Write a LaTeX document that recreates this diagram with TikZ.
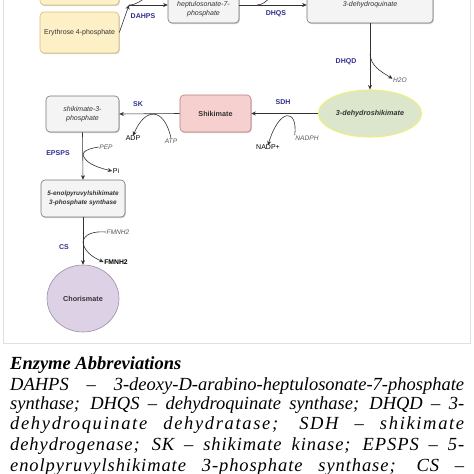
\documentclass[tikz,border=0pt]{standalone}
\usepackage{fontspec}
\setmainfont{Liberation Serif}
\setsansfont{Liberation Sans}
\usetikzlibrary{shapes.geometric,arrows.meta,shadows}
\definecolor{ylwfill}{HTML}{FDEFC6}
\definecolor{ylwline}{HTML}{D8BE78}
\definecolor{gryfill}{HTML}{F4F4F4}
\definecolor{gryline}{HTML}{777777}
\definecolor{pnkfill}{HTML}{F6CFCF}
\definecolor{pnkline}{HTML}{C07A78}
\definecolor{grnfill}{HTML}{DCE6CC}
\definecolor{grnline}{HTML}{EEEE80}
\definecolor{purfill}{HTML}{DDD1E6}
\definecolor{purline}{HTML}{9A8FA8}
\definecolor{enzblue}{HTML}{2E2E8E}
\definecolor{boxtext}{HTML}{333333}
\tikzset{
  shad/.style={drop shadow={shadow xshift=0.8pt,shadow yshift=-1.2pt,opacity=0.35}},
  ybox/.style={draw=ylwline,fill=ylwfill,rounded corners=4pt,line width=0.6pt,shad},
  gbox/.style={draw=gryline,fill=gryfill,rounded corners=4pt,line width=0.6pt,shad},
  pbox/.style={draw=pnkline,fill=pnkfill,rounded corners=4pt,line width=0.6pt,shad},
  boxtxt/.style={text=boxtext,font=\sffamily\itshape\fontsize{7}{9}\selectfont,align=center,inner sep=0pt},
  enz/.style={text=enzblue,font=\sffamily\bfseries\fontsize{7}{8}\selectfont,inner sep=0pt},
  cofin/.style={text=black!65,font=\sffamily\itshape\fontsize{6.6}{8}\selectfont,inner sep=0.5pt},
  cofout/.style={text=black,font=\sffamily\fontsize{7}{8}\selectfont,inner sep=0.5pt},
  conn/.style={draw=black!80,line width=0.6pt},
  arr/.style={conn,-{Stealth[length=4.5pt,width=4pt]}},
  abline/.style={anchor=base west,inner sep=0pt,font=\rmfamily\itshape\fontsize{18.5}{19}\selectfont},
}
\begin{document}
\begin{tikzpicture}[x=1pt,y=-1pt]
\useasboundingbox (0,0) rectangle (474,474);
\clip (0,0) rectangle (474,474);
\fill[white] (0,0) rectangle (474,474);
\draw[black!12,line width=0.8pt] (3,-5) rectangle (470,343);

% boxes
\node[ybox,minimum width=79pt,minimum height=45pt] (pep) at (79.5,-17.5) {};
\node[ybox,minimum width=79pt,minimum height=41pt,text=boxtext,font=\sffamily\fontsize{7}{8}\selectfont] (ery) at (79.5,32.5) {Erythrose 4-phosphate};
\node[gbox,minimum width=71pt,minimum height=48pt] (hep) at (203.5,-1) {};
\node[boxtxt] (heptxt) at (203.5,9.5) {heptulosonate-7-\\phosphate};
\node[gbox,minimum width=126pt,minimum height=48pt] (dq) at (370,-1) {};
\node[boxtxt] (dqtxt) at (370,5) {3-dehydroquinate};
\node[ellipse,draw=grnline,fill=grnfill,line width=1.1pt,minimum width=103pt,minimum height=47pt,inner sep=0pt,
      text=boxtext,font=\sffamily\bfseries\itshape\fontsize{7.2}{8}\selectfont] (dhs) at (370,113.5) {3-dehydroshikimate};
\node[pbox,minimum width=71pt,minimum height=37pt,text=boxtext,font=\sffamily\bfseries\fontsize{7.2}{8}\selectfont] (shik) at (215.5,113.5) {Shikimate};
\node[gbox,minimum width=73pt,minimum height=36pt] (s3p) at (82.5,114) {};
\node[boxtxt] (s3ptxt) at (82.5,114) {shikimate-3-\\phosphate};
\node[gbox,minimum width=84pt,minimum height=37pt] (eps) at (83,198.5) {};
\node[boxtxt,font=\sffamily\bfseries\itshape\fontsize{6.4}{8.5}\selectfont] (epstxt) at (83,198.5) {5-enolpyruvylshikimate\\3-phosphate synthase};
\node[ellipse,draw=purline,fill=purfill,line width=0.6pt,minimum width=72pt,minimum height=67pt,inner sep=0pt,
      text=boxtext,font=\sffamily\bfseries\fontsize{7.2}{8}\selectfont] (cho) at (83,298.5) {Chorismate};

% enzyme labels
\node[enz] (dahps) at (143,16) {DAHPS};
\node[enz] (dhqs) at (276,14) {DHQS};
\node[enz] (dhqd) at (346,62) {DHQD};
\node[enz] (sdh) at (283,102) {SDH};
\node[enz] (sk) at (138,104) {SK};
\node[enz] (epsps) at (58,153) {EPSPS};
\node[enz] (cs) at (64,247) {CS};

% cofactors
\node[cofin] (h2o) at (400,80) {H2O};
\node[cofin] (nadph) at (307,138) {NADPH};
\node[cofout] (nadp) at (268,147) {NADP+};
\node[cofin] (atp) at (171,141) {ATP};
\node[cofout] (adp) at (133,138) {ADP};
\node[cofin] (pepin) at (106,147) {PEP};
\node[cofout] (pi) at (116,171) {Pi};
\node[cofin] (fmin) at (118,232) {FMNH2};
\node[cofout,font=\sffamily\bfseries\fontsize{6.8}{8}\selectfont] (fmout) at (116,262) {FMNH2};

% junction coordinates
\coordinate (j1) at (129,5);
\coordinate (j1e) at (147,-3);
\coordinate (d1) at (257,5);
\coordinate (d1e) at (271,-3);
\coordinate (b1) at (370,54);
\coordinate (e1) at (83,154);
\coordinate (f1) at (83,242);

% connectors
\draw[arr] (ery.east) -- (j1);
\draw[arr] (j1) -- (hep.west |- j1);
\draw[conn] (j1) .. controls (137,5) and (141,0) .. (j1e);
\draw[arr] (hep.east |- j1) -- (dq.west |- j1);
\draw[conn] (d1) .. controls (263,5) and (266,1) .. (d1e);
\draw[arr] (dq.south) -- (dhs.north);
\draw[arr] (b1) .. controls (371,66) and (380,71) .. (h2o.170);
\draw[arr] (dhs.west) -- (shik.east);
\draw[arr] (nadph.north west) .. controls (298,108) and (279,108) .. ([yshift=-1.5pt]nadp.north);
\draw[arr] (shik.west) -- (s3p.east);
\draw[arr] (atp.north) .. controls (164,107) and (145,107) .. ([yshift=-1pt]adp.north);
\draw[arr] (s3p.south) -- (eps.north);
\draw[conn] (pepin.west) .. controls (92,148) and (84,150) .. (e1);
\draw[arr] (e1) .. controls (84,162) and (95,167) .. (pi.west);
\draw[arr] (eps.south) -- (cho.north);
\draw[conn] (fmin.west) .. controls (94,231) and (84,234) .. (f1);
\draw[arr] (f1) .. controls (84,251) and (92,257) .. (fmout.west);

% abbreviations text
\node[abline,font=\rmfamily\bfseries\itshape\fontsize{18.5}{19}\selectfont] (abtitle) at (10,369) {Enzyme Abbreviations};
\node[abline] (ab1) at (10,390) {\makebox[454pt][s]{DAHPS \ – \ 3-deoxy-D-arabino-heptulosonate-7-phosphate}};
\node[abline] (ab2) at (10,409.5) {\makebox[454pt][s]{synthase; DHQS – dehydroquinate synthase; DHQD – 3-}};
\node[abline] (ab3) at (10,429.5) {\makebox[454pt][s]{\addfontfeature{LetterSpace=9}dehydroquinate dehydratase; SDH – shikimate}};
\node[abline] (ab4) at (10,450) {\makebox[454pt][s]{\addfontfeature{LetterSpace=5}dehydrogenase; SK – shikimate kinase; EPSPS – 5-}};
\node[abline] (ab5) at (10,471) {\makebox[454pt][s]{\addfontfeature{LetterSpace=5}enolpyruvylshikimate 3-phosphate synthase; CS –}};
\end{tikzpicture}
\end{document}
